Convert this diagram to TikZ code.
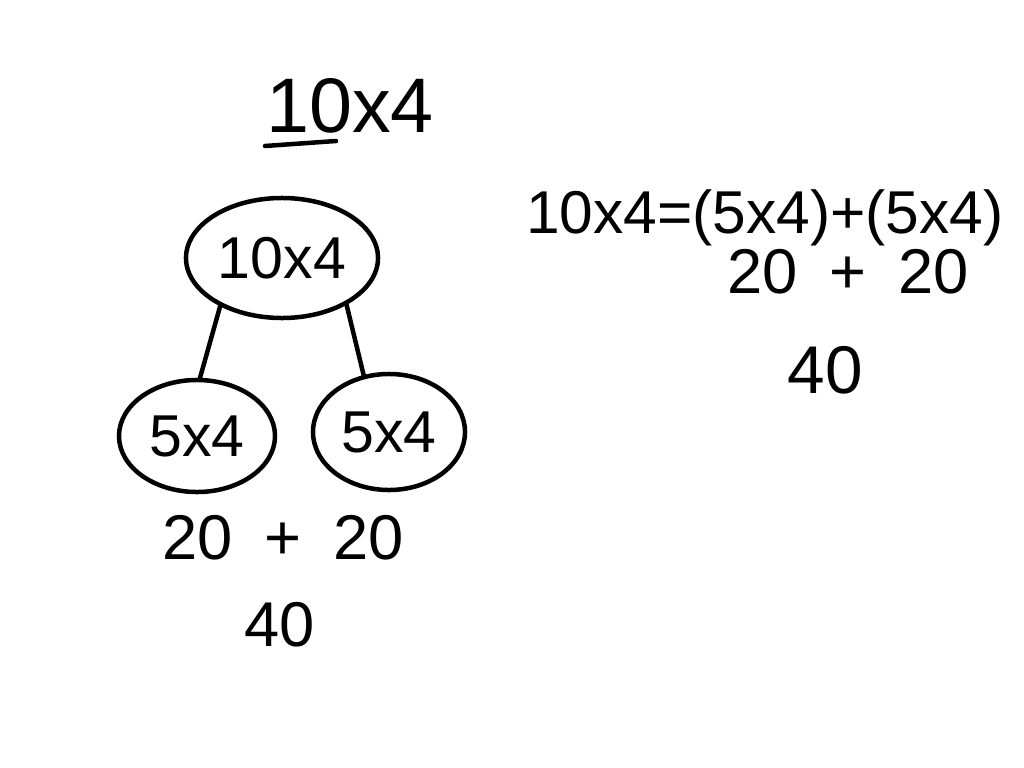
\documentclass[tikz,border=0pt]{standalone}
\usepackage{fontspec}
\setmainfont{Liberation Sans}
\usetikzlibrary{shapes.geometric}
\tikzset{bubble/.style={ellipse,draw,line width=3.2pt,inner sep=0pt},
  hand/.style={inner sep=0pt,font=\fontsize{#1}{#1}\selectfont},
  hand/.default=44pt}

\begin{document}
\begin{tikzpicture}[line cap=round,line join=round,x=0.025cm,y=-0.025cm]
\useasboundingbox[fill=white] (0,0) rectangle (1024,768);
% left side: the tree
\node[hand=55pt] (title) at (350,106) {10x4};
\draw [line width=3.2pt] (265,146)--(336,141);
\node[bubble,minimum width=4.8cm,minimum height=3cm,
  label={[hand=42pt]center:10x4}] (top) at (282,258) {};
\node[bubble,minimum width=3.9cm,minimum height=2.8cm,
  label={[hand=42pt]center:5x4}] (left) at (197,436) {};
\node[bubble,minimum width=3.8cm,minimum height=2.9cm,
  label={[hand=42pt]center:5x4}] (right) at (389,432) {};
\draw [line width=3.2pt] (top.218)--(left.87);
\draw [line width=3.2pt] (top.324)--(right.114);
\node[hand=45pt] (lsum) at (283,538) {20\hspace{0.5em}+\hspace{0.5em}20};
\node[hand=45pt] (lres) at (280,625) {40};
% right side: the equation
\node[hand=43pt,anchor=base] (eq) at (765,233) {10x4=(5x4)+(5x4)};
\node[hand=45pt] (rsum) at (848,272) {20\hspace{0.5em}+\hspace{0.5em}20};
\node[hand=48pt] (rres) at (825,370) {40};
\end{tikzpicture}
\end{document}
